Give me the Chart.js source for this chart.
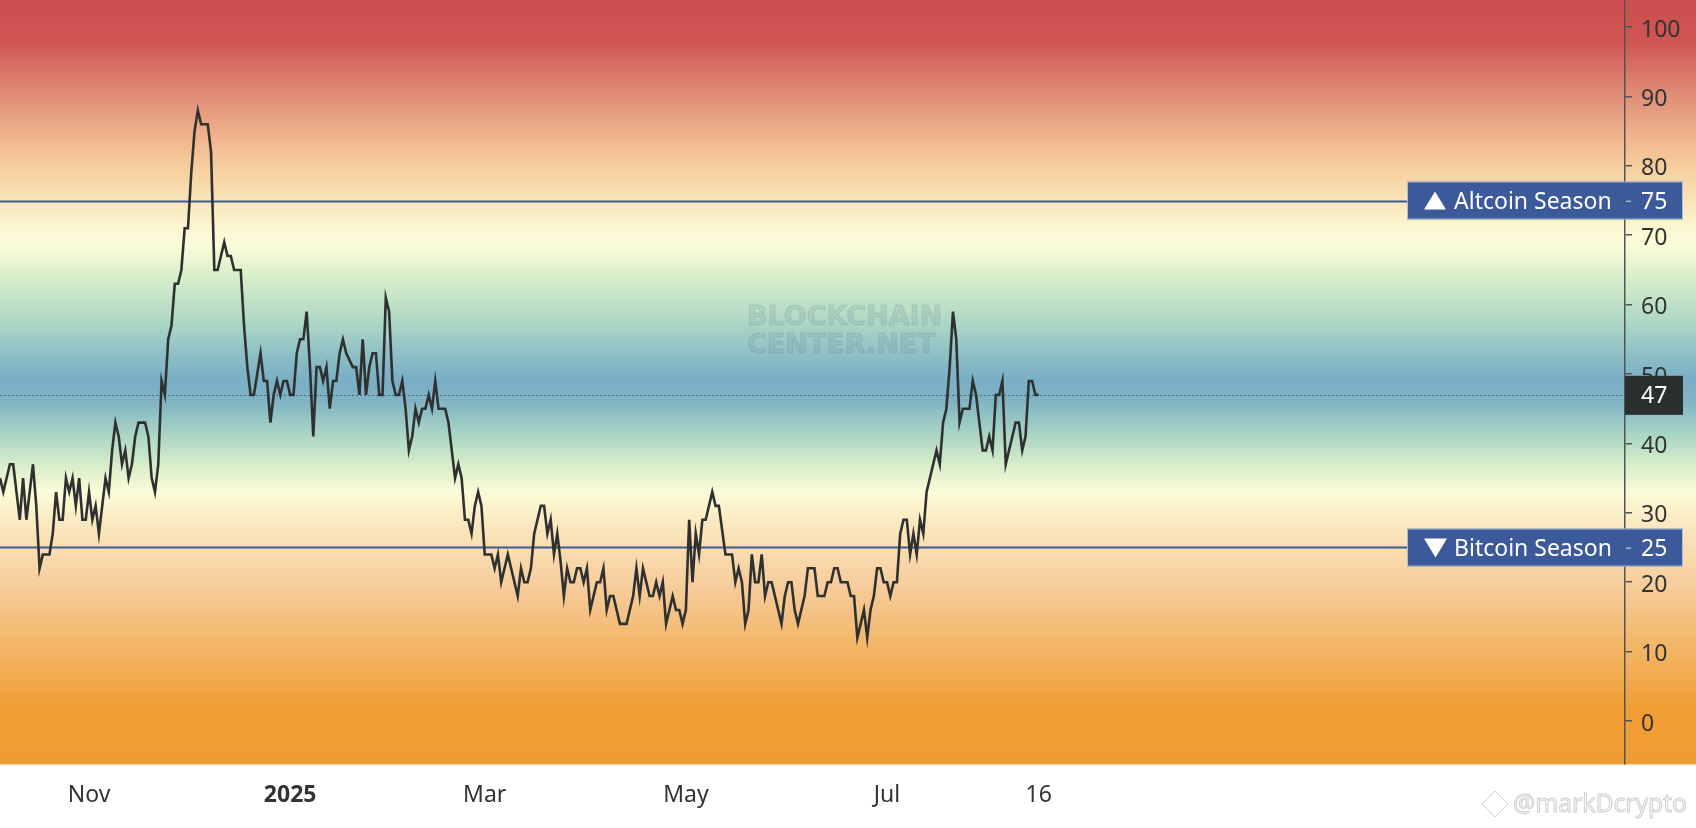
<!DOCTYPE html>
<html>
<head>
<meta charset="utf-8">
<script src="https://cdn.jsdelivr.net/npm/chart.js@4.4.1/dist/chart.umd.min.js"></script>
<style>
html, body { margin: 0; padding: 0; background: #fff; }
#wrap { width: 1696px; height: 828px; position: relative; }
</style>
</head>
<body>
<div id="wrap"><canvas id="chart"></canvas></div>
<script>
"use strict"

/*--------------------------- Data (dagar från 1 nov 2024) ---------------------------*/

const days = [
  -27, -26, -24, -23, -21, -20, -19, -17, -16, -15, -14, -12, -11, -10, -9, -8, -7, -6, -5, -4, -3, -2, -1,
  0, 1, 2, 3, 5, 6, 7, 8, 9, 10, 11, 12, 13, 14, 15, 17, 18, 19, 20, 21, 22, 23, 24, 25, 26, 27, 28, 29,
  30, 31, 32, 33, 34, 36, 37, 38, 39, 41, 42, 43, 44, 46, 47, 48, 49, 50,
  52, 53, 54, 55, 56, 57, 58, 59, 60, 61, 62, 63, 64, 65, 66, 67, 68, 69, 70, 71, 72, 73, 74, 75, 76, 77, 78,
  80, 81, 82, 83, 84, 85, 86, 87, 88, 89, 90, 91, 92, 93, 94, 95, 96, 97, 98, 99, 100, 101, 102, 103, 104,
  105, 106, 108, 109, 111, 112, 113, 114, 115, 116, 117, 118, 119, 120, 122, 123, 124, 125, 127, 128, 130,
  131, 132, 133, 134, 135, 136, 137, 138, 139, 140, 141, 142, 143, 144, 145, 146, 147, 148, 149, 150, 151,
  152, 153, 154, 155, 156, 157, 158, 159, 161, 163, 164, 165, 166, 167, 168, 169, 170, 171, 172, 173, 174,
  175, 176, 177, 178, 179, 180, 181, 182, 183, 184, 185, 186, 187, 188, 189, 190, 191, 193, 195, 196, 197,
  198, 199, 200, 201, 202, 203, 204, 205, 206, 207, 208, 209, 210, 211, 212,
  213, 214, 215, 216, 217, 218, 220, 221, 223, 224, 225, 226, 227, 228, 230, 231, 232, 233, 234, 235, 236,
  237, 238, 239, 240, 241, 242, 243, 244, 245, 246, 247, 248, 249, 250, 251, 252, 253, 254, 255, 256, 257,
  258, 259, 260, 261, 262, 263, 264, 265, 267, 268, 269, 270, 271, 272, 273, 274, 275, 276, 277, 278, 279,
  280, 281, 282, 283, 284, 285, 286, 287, 288
]

const values = [
  35, 33, 37, 37, 29, 35, 29, 37, 31, 22, 24, 24, 27, 33, 29, 29, 35, 33, 35, 31, 35, 29, 29,
  33, 29, 31, 27, 35, 33, 39, 43, 41, 37, 39, 35, 37, 41, 43, 43, 41, 35, 33, 37, 49, 47, 55, 57, 63, 63, 65, 71,
  71, 79, 85, 88, 86, 86, 82, 65, 65, 69, 67, 67, 65, 65, 57, 51, 47, 47,
  53, 49, 49, 43, 47, 49, 47, 49, 49, 47, 47, 53, 55, 55, 59, 51, 41, 51, 51, 49, 51, 45, 49, 49, 53, 55, 53,
  51, 51, 47, 55, 47, 51, 53, 53, 47, 47, 61, 59, 49, 47, 47, 49, 45, 39, 41, 45, 43, 45, 45, 47, 45,
  49, 45, 45, 43, 35, 37, 35, 29, 29, 27, 31, 33, 31, 24, 24, 22, 24, 20, 24, 22, 18,
  22, 20, 20, 22, 27, 29, 31, 31, 27, 29, 24, 27, 23, 18, 22, 20, 20, 22, 22, 20, 22,
  16, 18, 20, 20, 22, 16, 18, 18, 14, 14, 16, 18, 22, 18, 22, 20, 18, 18, 20, 18, 20,
  14, 16, 18, 16, 16, 14, 16, 29, 20, 27, 24, 29, 29, 31, 33, 31, 31, 24, 24, 20, 22,
  20, 14, 16, 24, 20, 20, 24, 18, 20, 20, 18, 16, 14, 18, 20,
  20, 16, 14, 16, 18, 22, 22, 18, 18, 20, 20, 22, 22, 20, 20, 18, 18, 12, 14, 16, 12,
  16, 18, 22, 22, 20, 20, 18, 20, 20, 27, 29, 29, 24, 27, 24, 29, 27, 33, 35, 37, 39,
  37, 43, 45, 51, 59, 55, 43, 45, 45, 49, 47, 43, 39, 39, 41, 39, 47, 47, 49, 37, 39,
  41, 43, 43, 39, 41, 49, 49, 47, 47
]

const xTickDays = [0, 61, 120, 181, 242, 288]
const xTickLabels = ["Nov", "2025", "Mar", "May", "Jul", "16"]
const yTicks = [0, 10, 20, 30, 40, 50, 60, 70, 80, 90, 100]

const altcoinLevel = 75
const bitcoinLevel = 25
const lastValue = 47

/*--------------------------- Stil ---------------------------*/

const FONT = "'Noto Sans', 'DejaVu Sans', sans-serif"

// färgtoner för bakgrunden, från toppen och nedåt (värde på y-axeln, färg)
const bgStops = [
  [104, "#cc4e50"], [98, "#cf5553"], [90, "#e08f78"], [84, "#f0b58d"], [80, "#f6cd9c"],
  [75.5, "#f9e2b4"], [71, "#fcf7d3"], [68.5, "#fbfcd8"], [64, "#d8eecb"], [58, "#b1dac4"],
  [53, "#8fc0c6"], [49, "#79aec5"], [46, "#80b4c5"], [41.5, "#a8d4c3"], [37, "#d6edca"],
  [33, "#fbfcd8"], [28.5, "#fbe9c0"], [19, "#f6cb99"], [10, "#f3b463"], [2, "#f19e35"], [-7, "#f09c32"]
]

const backgroundPlugin = {
  id: "background",
  beforeDraw(chart) {
    const { ctx, chartArea, scales } = chart
    const top = chartArea.top, bottom = chartArea.bottom
    const g = ctx.createLinearGradient(0, top, 0, bottom)
    bgStops.forEach(([v, c]) => {
      let p = (scales.y.getPixelForValue(v) - top) / (bottom - top)
      g.addColorStop(Math.min(1, Math.max(0, p)), c)
    })
    ctx.save()
    ctx.fillStyle = "#ffffff"
    ctx.fillRect(0, 0, chart.width, chart.height)
    ctx.fillStyle = g
    ctx.fillRect(0, top, chart.width, bottom - top)
    ctx.fillStyle = "#f3e3bd"
    ctx.fillRect(0, bottom, chart.width, 1.5)
    ctx.restore()
  },
  beforeDatasetsDraw(chart) {
    const { ctx, chartArea, scales } = chart
    ctx.save()
    // vattenstämpel
    ctx.fillStyle = "rgba(95, 125, 145, 0.15)"
    ctx.strokeStyle = "rgba(95, 125, 145, 0.18)"
    ctx.lineWidth = 1
    ctx.font = "bold 27px 'DejaVu Sans', sans-serif"
    ctx.textBaseline = "middle"
    ctx.textAlign = "left"
    ctx.fillText("BLOCKCHAIN", 747, 318, 200)
    ctx.strokeText("BLOCKCHAIN", 747, 318, 200)
    ctx.fillText("CENTER.NET", 747, 346, 198)
    ctx.strokeText("CENTER.NET", 747, 346, 198)

    // nivålinjer 75 och 25
    ctx.strokeStyle = "#3d5a98"
    ctx.lineWidth = 2
    ;[altcoinLevel, bitcoinLevel].forEach(v => {
      const y = Math.round(scales.y.getPixelForValue(v)) + 0.5
      ctx.beginPath()
      ctx.moveTo(chartArea.left, y)
      ctx.lineTo(chartArea.right, y)
      ctx.stroke()
    })

    // prickad linje för senaste värdet
    const yl = Math.round(scales.y.getPixelForValue(lastValue)) + 0.5
    ctx.strokeStyle = "rgba(70, 80, 85, 0.75)"
    ctx.lineWidth = 1
    ctx.setLineDash([2, 2])
    ctx.beginPath()
    ctx.moveTo(chartArea.left, yl)
    ctx.lineTo(chartArea.right, yl)
    ctx.stroke()
    ctx.restore()
  },
  afterDraw(chart) {
    const { ctx, chartArea, scales } = chart
    ctx.save()
    ctx.textBaseline = "middle"
    ctx.font = "23px " + FONT

    // etiketter för Altcoin / Bitcoin season
    const boxes = [
      { v: altcoinLevel, text: "Altcoin Season", up: true },
      { v: bitcoinLevel, text: "Bitcoin Season", up: false }
    ]
    boxes.forEach(b => {
      const yc = scales.y.getPixelForValue(b.v)
      ctx.fillStyle = "#3c5a99"
      ctx.fillRect(1407, yc - 19, 276, 38)
      ctx.strokeStyle = "rgba(220, 228, 240, 0.7)"
      ctx.lineWidth = 1
      ctx.strokeRect(1407.5, yc - 18.5, 275, 37)
      ctx.fillStyle = "#ffffff"
      ctx.beginPath()
      if (b.up) {
        ctx.moveTo(1424, yc + 9); ctx.lineTo(1446, yc + 9); ctx.lineTo(1435, yc - 9)
      } else {
        ctx.moveTo(1424, yc - 9); ctx.lineTo(1447, yc - 9); ctx.lineTo(1435.5, yc + 10)
      }
      ctx.closePath()
      ctx.fill()
      ctx.textAlign = "left"
      ctx.fillText(b.text, 1454, yc + 2, 160)
      ctx.fillText(String(b.v), 1641, yc + 2)
      ctx.fillStyle = "rgba(255, 255, 255, 0.55)"
      ctx.fillRect(1626, yc, 5, 1.5)
    })

    // ruta för senaste värdet
    const yl = scales.y.getPixelForValue(lastValue)
    ctx.fillStyle = "#2b2f2f"
    ctx.fillRect(chartArea.right, yl - 19, 58, 39)
    ctx.fillStyle = "#ffffff"
    ctx.fillText(String(lastValue), 1641, yl + 2)

    // signatur nere till höger
    ctx.font = "25px " + FONT
    ctx.fillStyle = "#f7f7f7"
    ctx.strokeStyle = "#d0d0d0"
    ctx.lineWidth = 1
    ctx.fillText("@markDcrypto", 1513, 805, 174)
    ctx.strokeText("@markDcrypto", 1513, 805, 174)
    ctx.beginPath()
    ctx.moveTo(1495, 791); ctx.lineTo(1508, 804); ctx.lineTo(1495, 817); ctx.lineTo(1482, 804)
    ctx.closePath()
    ctx.stroke()
    ctx.restore()
  }
}

/*--------------------------- Diagram ---------------------------*/

const points = days.map((d, i) => ({ x: d, y: values[i] }))

new Chart(document.getElementById("chart"), {
  type: "line",
  data: {
    datasets: [{
      data: points,
      borderColor: "#2f3131",
      borderWidth: 2.6,
      pointRadius: 0,
      tension: 0,
      fill: false
    }]
  },
  options: {
    responsive: true,
    maintainAspectRatio: false,
    animation: false,
    events: [],
    layout: { padding: 0 },
    plugins: {
      legend: { display: false },
      tooltip: { enabled: false }
    },
    scales: {
      x: {
        type: "linear",
        min: -27,
        max: 465.8,
        grid: { display: false, drawTicks: false },
        border: { display: false },
        afterBuildTicks: scale => { scale.ticks = xTickDays.map(v => ({ value: v })) },
        afterFit: scale => { scale.height = 64; scale.paddingLeft = 0; scale.paddingRight = 0 },
        ticks: {
          autoSkip: false,
          maxRotation: 0,
          padding: 18,
          color: "#333333",
          font: ctx => ({ family: FONT, size: 23, weight: (ctx.tick && ctx.tick.value === 61) ? "bold" : "normal" }),
          callback: v => xTickLabels[xTickDays.indexOf(v)]
        }
      },
      y: {
        position: "right",
        min: -6.2,
        max: 103.9,
        grid: { drawOnChartArea: false, drawTicks: true, tickLength: 7, color: "#50555a", lineWidth: 1.5 },
        border: { display: true, color: "#50555a", width: 1.5 },
        afterBuildTicks: scale => { scale.ticks = yTicks.map(v => ({ value: v })) },
        afterFit: scale => { scale.width = 71; scale.paddingTop = 0; scale.paddingBottom = 0 },
        ticks: {
          autoSkip: false,
          padding: 9,
          labelOffset: 3,
          color: "#333333",
          font: { family: FONT, size: 23 },
          crossAlign: "near"
        }
      }
    }
  },
  plugins: [backgroundPlugin]
})
</script>
</body>
</html>
